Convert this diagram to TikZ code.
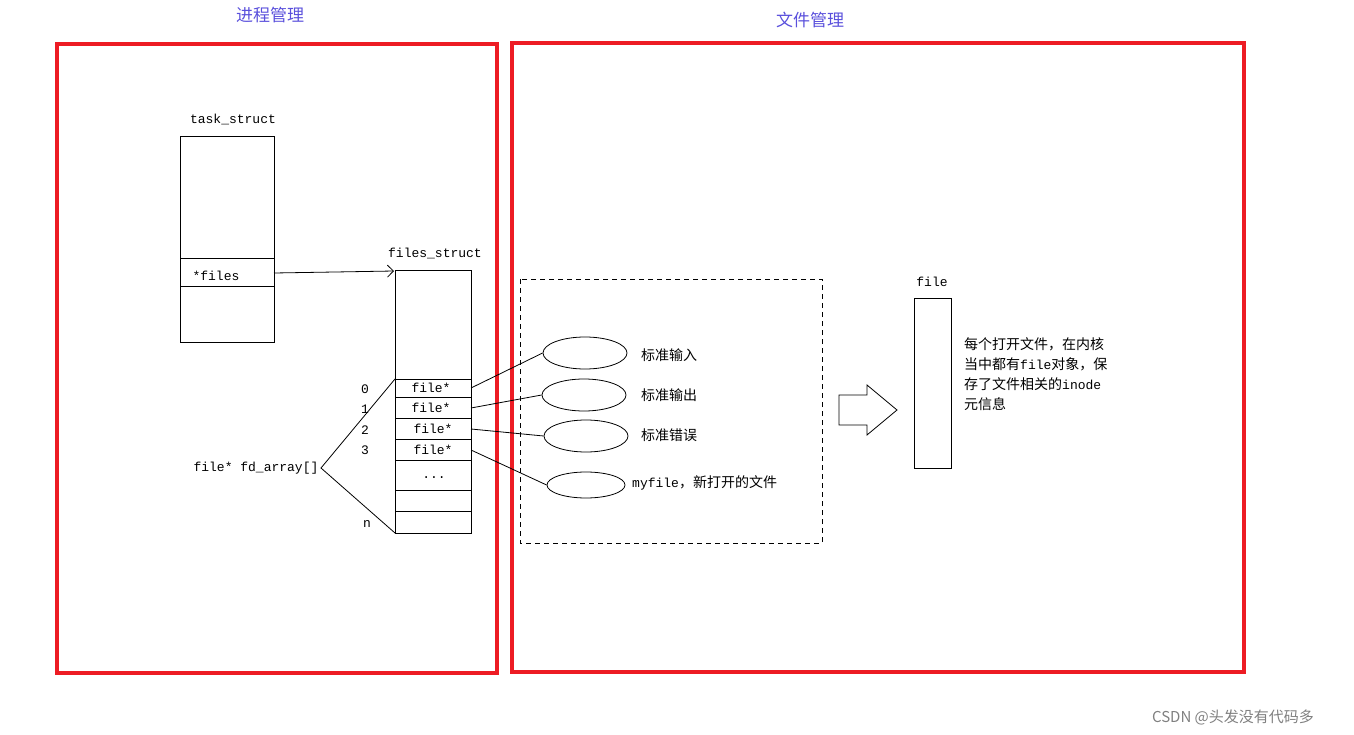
\documentclass[tikz,border=0pt]{standalone}
\usepackage{fontspec}
\usetikzlibrary{arrows.meta,shapes.geometric}
\setmainfont{Liberation Mono}
\newfontfamily\cjk{Noto Sans CJK SC}
\begin{document}
\begin{tikzpicture}[x=1pt,y=-1pt,
  redbox/.style={draw={rgb,255:red,237;green,28;blue,36},line width=4pt},
  box/.style={draw,line width=0.8pt},
  lbl/.style={font=\fontsize{13}{15}\selectfont,inner sep=0pt},
  zh/.style={font=\fontsize{14}{20}\selectfont\cjk,inner sep=0pt},
  ell/.style={draw,ellipse,line width=0.8pt},
  con/.style={line width=0.8pt}]
\useasboundingbox (0,0) rectangle (1354,735);
\draw[redbox] (57,44) rectangle (497,673);
\draw[redbox] (512,43) rectangle (1244,672);
\node[zh,text={rgb,255:red,90;green,80;blue,220},font=\fontsize{17}{20}\selectfont\cjk] (t1) at (270,15) {进程管理};
\node[zh,text={rgb,255:red,90;green,80;blue,220},font=\fontsize{17}{20}\selectfont\cjk] (t2) at (810,20) {文件管理};
% task_struct
\node[lbl] (tsl) at (233,119) {task\_struct};
\draw[box] (180,136) rectangle (274,342);
\draw[box] (180,258) -- (274,258) (180,286) -- (274,286);
\node[lbl] (fl) at (216,276) {*files};
\coordinate (fa) at (274,273);
% files_struct
\node[lbl] (fsl) at (435,253) {files\_struct};
\draw[box] (395,270) rectangle (471,533);
\foreach \y in {379,397,418,439,460,490,511} \draw[box] (395,\y) -- (471,\y);
\coordinate (fsw) at (394,271);
\draw[con,-{Straight Barb[length=6pt,width=12pt]}] (fa) -- (335,272) -- (fsw);
\node[lbl] (r0) at (431,388) {file*};
\node[lbl] (r1) at (431,408) {file*};
\node[lbl] (r2) at (433,429) {file*};
\node[lbl] (r3) at (433,450) {file*};
\node[lbl] (r4) at (434,478) {...};
\foreach \i/\y in {0/389,1/409,2/430,3/450} \node[lbl] (i\i) at (365,\y) {\i};
\node[lbl] (in) at (367,524) {n};
\node[lbl] (fd) at (256,468) {file* fd\_array[]};
\coordinate (fdE) at (321,468);
\coordinate (top) at (395,379);
\coordinate (bot) at (395,533);
\draw[con] (top) -- (fdE) -- (bot);
% dashed
\draw[con,dash pattern=on 5pt off 4pt] (520,279) rectangle (822,543);
\node[ell,minimum width=84pt,minimum height=32pt] (e0) at (585,353) {};
\node[ell,minimum width=84pt,minimum height=32pt] (e1) at (584,395) {};
\node[ell,minimum width=84pt,minimum height=32pt] (e2) at (586,436) {};
\node[ell,minimum width=78pt,minimum height=26pt] (e3) at (586,485) {};
\node[zh,anchor=west] (l0) at (641,355) {标准输入};
\node[zh,anchor=west] (l1) at (641,395) {标准输出};
\node[zh,anchor=west] (l2) at (641,435) {标准错误};
\node[anchor=west,inner sep=0pt] (l3) at (632,483) {\fontsize{13}{15}\selectfont myfile\cjk\fontsize{14}{15}\selectfont，新打开的文件};
\coordinate (c0) at (471,388);
\coordinate (c1) at (471,408);
\coordinate (c2) at (471,429);
\coordinate (c3) at (471,450);
\draw[con] (c0) -- (e0.west);
\draw[con] (c1) -- (e1.west);
\draw[con] (c2) -- (e2.west);
\draw[con] (c3) -- (e3.west);
% big arrow
\draw[con] (839,395) -- (867,395) -- (867,385) -- (897,410) -- (867,435) -- (867,425) -- (839,425) -- cycle;
% file
\node[lbl] (filel) at (932,282) {file};
\draw[box] (914,298) rectangle (951,468);
\node[zh,anchor=north west,align=left,font=\fontsize{14}{20}\selectfont\cjk] (desc) at (964,337)
 {每个打开文件，在内核\\当中都有{\fontspec{Liberation Mono}\fontsize{13}{20}\selectfont file}对象，保\\存了文件相关的{\fontspec{Liberation Mono}\fontsize{13}{20}\selectfont inode}\\元信息};
\node[zh,text=gray,font=\fontsize{15}{18}\selectfont\cjk] (wm) at (1233,717) {CSDN @头发没有代码多};
\end{tikzpicture}
\end{document}
